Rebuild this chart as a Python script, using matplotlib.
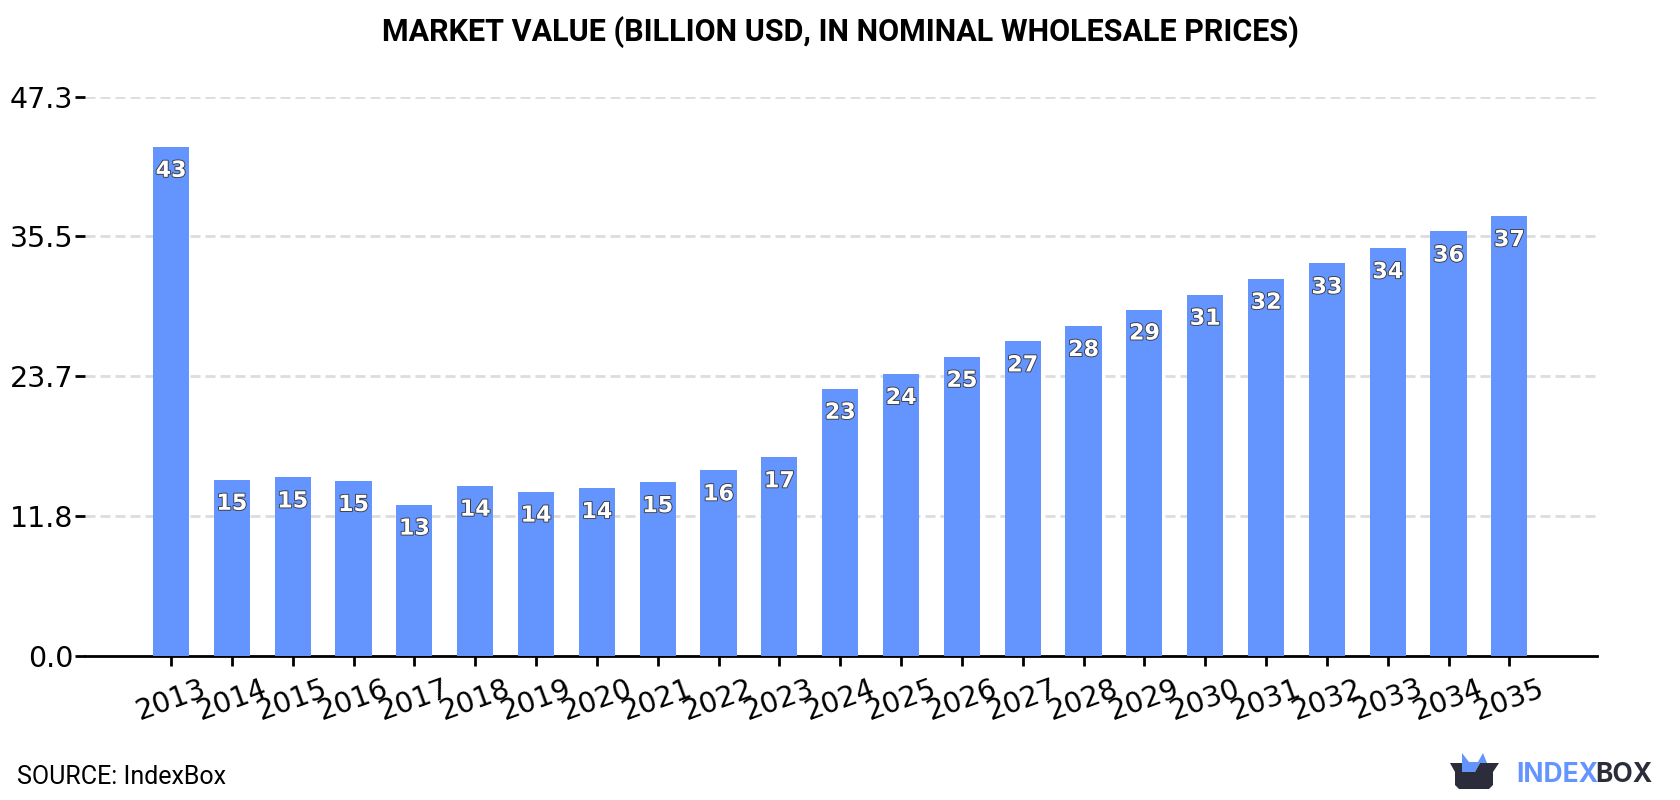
import matplotlib
matplotlib.use('Agg')
import matplotlib.pyplot as plt
import matplotlib.patheffects as pe
from matplotlib.patches import Polygon

years = [2013, 2014, 2015, 2016, 2017, 2018, 2019, 2020, 2021, 2022, 2023, 2024,
         2025, 2026, 2027, 2028, 2029, 2030, 2031, 2032, 2033, 2034, 2035]
values = [43.06, 14.9, 15.1, 14.8, 12.8, 14.4, 13.9, 14.2, 14.7, 15.7, 16.8, 22.6,
          23.85, 25.3, 26.6, 27.9, 29.3, 30.55, 31.9, 33.2, 34.49, 35.9, 37.2]
y_ticks = [0.0, 11.8, 23.7, 35.5, 47.3]

BLUE = '#6495ff'
DARK = '#2b2d3a'
W, H = 1680, 800

fig = plt.figure(figsize=(W / 100, H / 100), dpi=100)
ax = fig.add_axes([85 / W, 1 - 656 / H, (1597 - 85) / W, (656 - 96.7) / H])

x = list(range(len(years)))
ax.bar(x, values, width=0.595, color=BLUE, zorder=3)

for i, v in zip(x, values):
    ax.annotate(f'{v:.0f}', (i, v), xytext=(0, -24), textcoords='offset pixels',
                ha='center', va='center', fontsize=16, fontweight='bold',
                family='DejaVu Sans', color='white', zorder=4,
                path_effects=[pe.withStroke(linewidth=1.3, foreground='#3a3a3a')])

ax.set_xlim(-1.414, 23.44)
ax.set_ylim(0, 47.3)
ax.set_yticks(y_ticks, [f'{t:.1f}' for t in y_ticks], fontsize=20.5)
ax.set_xticks(x, years, fontsize=20.5, rotation=20)
ax.tick_params(axis='y', length=7, width=2, pad=1.5)
ax.tick_params(axis='x', length=7, width=2, pad=6)
ax.grid(axis='y', color='#dddddd', linewidth=2, dashes=(3.6, 1.8), zorder=1)
for side in ['top', 'right', 'left']:
    ax.spines[side].set_visible(False)
ax.spines['bottom'].set_linewidth(2)

fig.text(0.5, 1 - 32 / H, 'MARKET VALUE (BILLION USD, IN NOMINAL WHOLESALE PRICES)',
         ha='center', va='center', family='Roboto', fontweight='bold', fontsize=22)
fig.text(17 / W, 1 - 777 / H, 'SOURCE: IndexBox', ha='left', va='center',
         family='Roboto', fontsize=18)

# logo: open box with blue contents, then the wordmark
logo = fig.add_axes([0, 0, 1, 1], zorder=5)
logo.set_xlim(0, W)
logo.set_ylim(H, 0)
logo.axis('off')
logo.add_patch(Polygon([(1462, 772), (1462, 763), (1462, 753), (1469, 762), (1478, 762),
                        (1483, 753), (1487, 763), (1480, 763), (1475, 772)], color=BLUE, lw=0))
logo.add_patch(Polygon([(1450, 763), (1462, 763), (1462, 772), (1475, 772), (1480, 763), (1499, 763),
                        (1493, 772), (1493, 785), (1489, 789), (1459, 789), (1455, 785), (1455, 772)],
                       color=DARK, lw=0))
logo.text(1516, 775, 'INDEX', color=BLUE, family='Inter', fontweight='bold', fontsize=19,
          ha='left', va='center')
logo.text(1595, 775, 'BOX', color=DARK, family='Inter', fontweight='bold', fontsize=19,
          ha='left', va='center')

fig.savefig('out.png', dpi=100)
